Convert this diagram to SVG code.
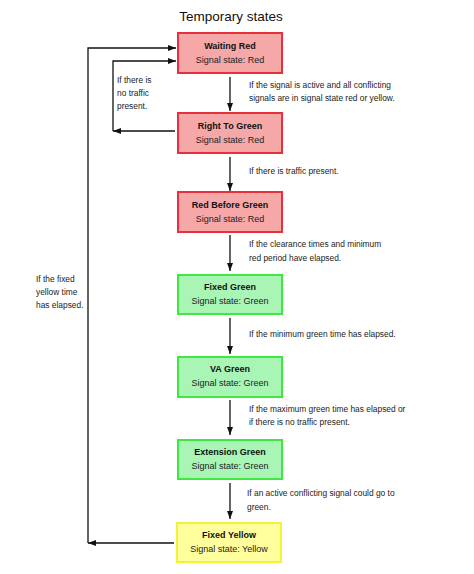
<svg xmlns="http://www.w3.org/2000/svg" width="474" height="574" viewBox="0 0 474 574">
<style>
.title{font-family:"Liberation Sans",Arial,sans-serif;font-size:13.5px;fill:#111}
.bt{font-family:"Liberation Sans",Arial,sans-serif;font-size:9px;font-weight:bold;fill:#111;text-anchor:middle}
.st{font-family:"Liberation Sans",Arial,sans-serif;font-size:9px;fill:#222;text-anchor:middle}
.lb{font-family:"Liberation Sans",Arial,sans-serif;font-size:8.4px;fill:#222}
.red{fill:#f6a8a8;stroke:#e8303a;stroke-width:2}
.green{fill:#a8f5b6;stroke:#3ee83e;stroke-width:2}
.yellow{fill:#ffff9e;stroke:#f2f23a;stroke-width:2}
.ln{fill:none;stroke:#111;stroke-width:1.3}
</style>
<defs>
<marker id="ah" viewBox="0 0 8 6" refX="8" refY="3" markerWidth="8" markerHeight="6" markerUnits="userSpaceOnUse" orient="auto">
<path d="M0,0 L8,3 L0,6 Z" fill="#111"/>
</marker>
</defs>
<rect width="474" height="574" fill="#fff"/>
<text class="title" x="231" y="21" text-anchor="middle">Temporary states</text>

<g id="waiting-red"><rect class="red" x="178" y="33" width="104" height="40"/><text class="bt" x="230" y="49">Waiting Red</text><text class="st" x="230" y="63">Signal state: Red</text></g>
<g id="right-to-green"><rect class="red" x="178" y="113" width="104" height="40"/><text class="bt" x="230" y="129">Right To Green</text><text class="st" x="230" y="143">Signal state: Red</text></g>
<g id="red-before-green"><rect class="red" x="178" y="192" width="104" height="40"/><text class="bt" x="230" y="208">Red Before Green</text><text class="st" x="230" y="222">Signal state: Red</text></g>
<g id="fixed-green"><rect class="green" x="178" y="275" width="104" height="39"/><text class="bt" x="230" y="290">Fixed Green</text><text class="st" x="230" y="304">Signal state: Green</text></g>
<g id="va-green"><rect class="green" x="178" y="357" width="104" height="40"/><text class="bt" x="230" y="372">VA Green</text><text class="st" x="230" y="386">Signal state: Green</text></g>
<g id="extension-green"><rect class="green" x="178" y="440" width="104" height="39"/><text class="bt" x="230" y="455">Extension Green</text><text class="st" x="230" y="469">Signal state: Green</text></g>
<g id="fixed-yellow"><rect class="yellow" x="177" y="523" width="104" height="39"/><text class="bt" x="229" y="538">Fixed Yellow</text><text class="st" x="229" y="552">Signal state: Yellow</text></g>

<g id="connectors">
<line class="ln" x1="230" y1="77" x2="230" y2="111" marker-end="url(#ah)"/>
<line class="ln" x1="230" y1="157" x2="230" y2="191" marker-end="url(#ah)"/>
<line class="ln" x1="230" y1="235" x2="230" y2="271" marker-end="url(#ah)"/>
<line class="ln" x1="230" y1="318" x2="230" y2="354" marker-end="url(#ah)"/>
<line class="ln" x1="230" y1="400" x2="230" y2="435" marker-end="url(#ah)"/>
<line class="ln" x1="230" y1="483" x2="230" y2="519" marker-end="url(#ah)"/>
<line class="ln" x1="175" y1="131" x2="113" y2="131" marker-end="url(#ah)"/>
<polyline class="ln" points="113,131 113,61 176,61" marker-end="url(#ah)"/>
<line class="ln" x1="174" y1="543" x2="88" y2="543" marker-end="url(#ah)"/>
<polyline class="ln" points="88,543 88,48 176,48" marker-end="url(#ah)"/>
</g>

<g id="labels">
<text class="lb" x="117" y="83">If there is</text>
<text class="lb" x="117" y="96">no traffic</text>
<text class="lb" x="117" y="109">present.</text>
<text class="lb" x="36" y="282">If the fixed</text>
<text class="lb" x="36" y="295">yellow time</text>
<text class="lb" x="36" y="308">has elapsed.</text>
<text class="lb" x="249" y="88">If the signal is active and all conflicting</text>
<text class="lb" x="249" y="101">signals are in signal state red or yellow.</text>
<text class="lb" x="249" y="174">If there is traffic present.</text>
<text class="lb" x="249" y="247">If the clearance times and minimum</text>
<text class="lb" x="249" y="261">red period have elapsed.</text>
<text class="lb" x="249" y="337">If the minimum green time has elapsed.</text>
<text class="lb" x="249" y="412">If the maximum green time has elapsed or</text>
<text class="lb" x="249" y="425">if there is no traffic present.</text>
<text class="lb" x="247" y="496">If an active conflicting signal could go to</text>
<text class="lb" x="247" y="510">green.</text>
</g>
</svg>
